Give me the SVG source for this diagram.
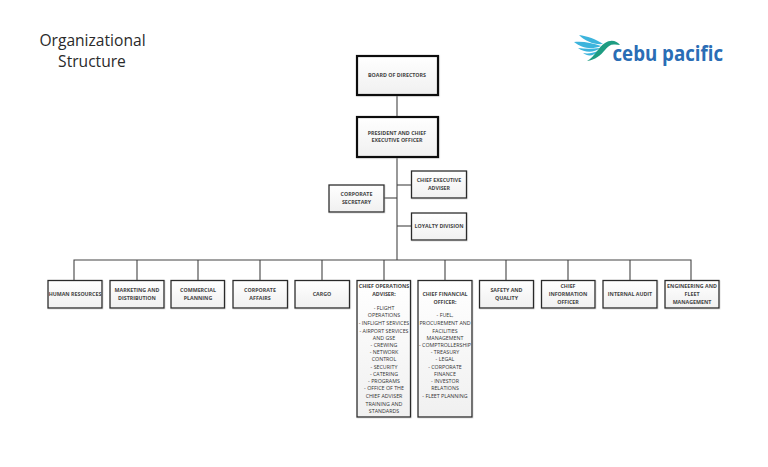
<svg xmlns="http://www.w3.org/2000/svg" width="768" height="467" viewBox="0 0 768 467">
<defs>
<linearGradient id="boxfill" x1="0" y1="0" x2="0" y2="1"><stop offset="0" stop-color="#ffffff"/><stop offset="1" stop-color="#f0f0f0"/></linearGradient>
<filter id="soft" x="-10%" y="-10%" width="125%" height="125%"><feDropShadow dx="0.5" dy="0.5" stdDeviation="0.5" flood-color="#999" flood-opacity="0.5"/></filter>
</defs>
<style>
.box{fill:url(#boxfill);stroke:#2b2b2b;stroke-width:1.3;filter:url(#soft)}
.thick{stroke:#111;stroke-width:2.2}
.t{font-family:"Open Sans","Liberation Sans",sans-serif;font-size:5.3px;font-weight:700;fill:#444;text-anchor:middle}
.r{font-weight:400;fill:#333}
.title{font-family:"Open Sans","Liberation Sans",sans-serif;font-size:15.6px;fill:#2a2a2a;text-anchor:middle}
.conn{fill:none;stroke:#444;stroke-width:1.1}
</style>
<rect width="768" height="467" fill="#fff"/>
<g id="title"><text class="title" x="92.500" y="46">Organizational</text><text class="title" x="92" y="67">Structure</text></g>
<g id="logo">
<path d="M579 35C587 36 596 39 603 44C594 45 585 41 579 35Z" fill="#3cb4dc"/>
<path d="M574 42C583 41 592 43 601 46C592 50 581 48 574 42Z" fill="#3cb4dc"/>
<path d="M578 48C585 49 592 49 600 48C594 53 585 53 578 48Z" fill="#3cb4dc"/>
<path d="M583 53C588 54 593 53 598 51C594 56 588 57 583 53Z" fill="#3cb4dc"/>
<path d="M587 61C595 57 598 47 605 43C611 39 617 41 620 45L615 44.500C611 44 608 46 605 50C601 55 595 60 587 61Z" fill="#1e9c82"/>
<text x="612.500" y="61" font-family="'Open Sans','Liberation Sans',sans-serif" font-weight="700" font-size="20.500" textLength="110.500" lengthAdjust="spacingAndGlyphs" fill="#2a6db5">cebu pacific</text>
</g>
<g id="connectors" class="conn">
<path d="M397 95V260"/>
<path d="M384 198H397"/>
<path d="M397 185H411"/>
<path d="M397 226H411"/>
<path d="M74 280V260H691V280"/>
<path d="M137 260V280M198 260V280M260 260V280M322 260V280M384 260V280M445 260V280M506 260V280M568 260V280M630 260V280"/>
</g>
<g id="board"><rect class="box thick" x="357" y="56" width="81" height="39"/><text class="t" x="397" y="77">BOARD OF DIRECTORS</text></g>
<g id="president"><rect class="box thick" x="357" y="117" width="81" height="40"/><text class="t" x="397" y="135">PRESIDENT AND CHIEF</text><text class="t" x="397" y="142">EXECUTIVE OFFICER</text></g>
<g id="secretary"><rect class="box" x="329" y="185" width="55" height="27"/><text class="t" x="356.500" y="196">CORPORATE</text><text class="t" x="356.500" y="204">SECRETARY</text></g>
<g id="adviser"><rect class="box" x="411.500" y="171" width="55" height="27"/><text class="t" x="439" y="182">CHIEF EXECUTIVE</text><text class="t" x="439" y="190">ADVISER</text></g>
<g id="loyalty"><rect class="box" x="411.500" y="213" width="55" height="27"/><text class="t" x="439" y="228">LOYALTY DIVISION</text></g>
<g id="hr"><rect class="box" x="48" y="280.500" width="54" height="27.500"/><text class="t" x="75" y="296">HUMAN RESOURCES</text></g>
<g id="marketing"><rect class="box" x="110" y="280.500" width="54" height="27.500"/><text class="t" x="137" y="292">MARKETING AND</text><text class="t" x="137" y="300">DISTRIBUTION</text></g>
<g id="commercial"><rect class="box" x="171" y="280.500" width="53.500" height="27.500"/><text class="t" x="198" y="292">COMMERCIAL</text><text class="t" x="198" y="300">PLANNING</text></g>
<g id="affairs"><rect class="box" x="233" y="280.500" width="54.500" height="27.500"/><text class="t" x="260" y="292">CORPORATE</text><text class="t" x="260" y="300">AFFAIRS</text></g>
<g id="cargo"><rect class="box" x="295" y="280.500" width="54.500" height="27.500"/><text class="t" x="322" y="296">CARGO</text></g>
<g id="ops"><rect class="box" x="357" y="280.500" width="53.500" height="136.500"/>
<text class="t" x="384" y="288">CHIEF OPERATIONS</text><text class="t" x="384" y="296">ADVISER:</text>
<text class="t r" x="384" y="310">- FLIGHT</text><text class="t r" x="384" y="317">OPERATIONS</text><text class="t r" x="384" y="325">- INFLIGHT SERVICES</text><text class="t r" x="384" y="333">- AIRPORT SERVICES</text><text class="t r" x="384" y="340">AND GSE</text><text class="t r" x="384" y="347">- CREWING</text><text class="t r" x="384" y="354">- NETWORK</text><text class="t r" x="384" y="361">CONTROL</text><text class="t r" x="384" y="369">- SECURITY</text><text class="t r" x="384" y="376">- CATERING</text><text class="t r" x="384" y="383">- PROGRAMS</text><text class="t r" x="384" y="390">- OFFICE OF THE</text><text class="t r" x="384" y="398">CHIEF ADVISER</text><text class="t r" x="384" y="406">TRAINING AND</text><text class="t r" x="384" y="413">STANDARDS</text></g>
<g id="cfo"><rect class="box" x="418" y="280.500" width="54" height="136.500"/>
<text class="t" x="445" y="296">CHIEF FINANCIAL</text><text class="t" x="445" y="304">OFFICER:</text>
<text class="t r" x="445" y="317">- FUEL,</text><text class="t r" x="445" y="325">PROCUREMENT AND</text><text class="t r" x="445" y="333">FACILITIES</text><text class="t r" x="445" y="340">MANAGEMENT</text><text class="t r" x="445" y="347">- COMPTROLLERSHIP</text><text class="t r" x="445" y="354">- TREASURY</text><text class="t r" x="445" y="361">- LEGAL</text><text class="t r" x="445" y="369">- CORPORATE</text><text class="t r" x="445" y="376">FINANCE</text><text class="t r" x="445" y="383">- INVESTOR</text><text class="t r" x="445" y="390">RELATIONS</text><text class="t r" x="445" y="398">- FLEET PLANNING</text></g>
<g id="safety"><rect class="box" x="479.500" y="280.500" width="54" height="27.500"/><text class="t" x="506.500" y="292">SAFETY AND</text><text class="t" x="506.500" y="300">QUALITY</text></g>
<g id="cio"><rect class="box" x="541.500" y="280.500" width="53.500" height="27.500"/><text class="t" x="568" y="288">CHIEF</text><text class="t" x="568" y="296">INFORMATION</text><text class="t" x="568" y="304">OFFICER</text></g>
<g id="audit"><rect class="box" x="603" y="280.500" width="54" height="27.500"/><text class="t" x="630" y="296">INTERNAL AUDIT</text></g>
<g id="eng"><rect class="box" x="665" y="280.500" width="54" height="27.500"/><text class="t" x="692" y="288">ENGINEERING AND</text><text class="t" x="692" y="296">FLEET</text><text class="t" x="692" y="304">MANAGEMENT</text></g>
</svg>
